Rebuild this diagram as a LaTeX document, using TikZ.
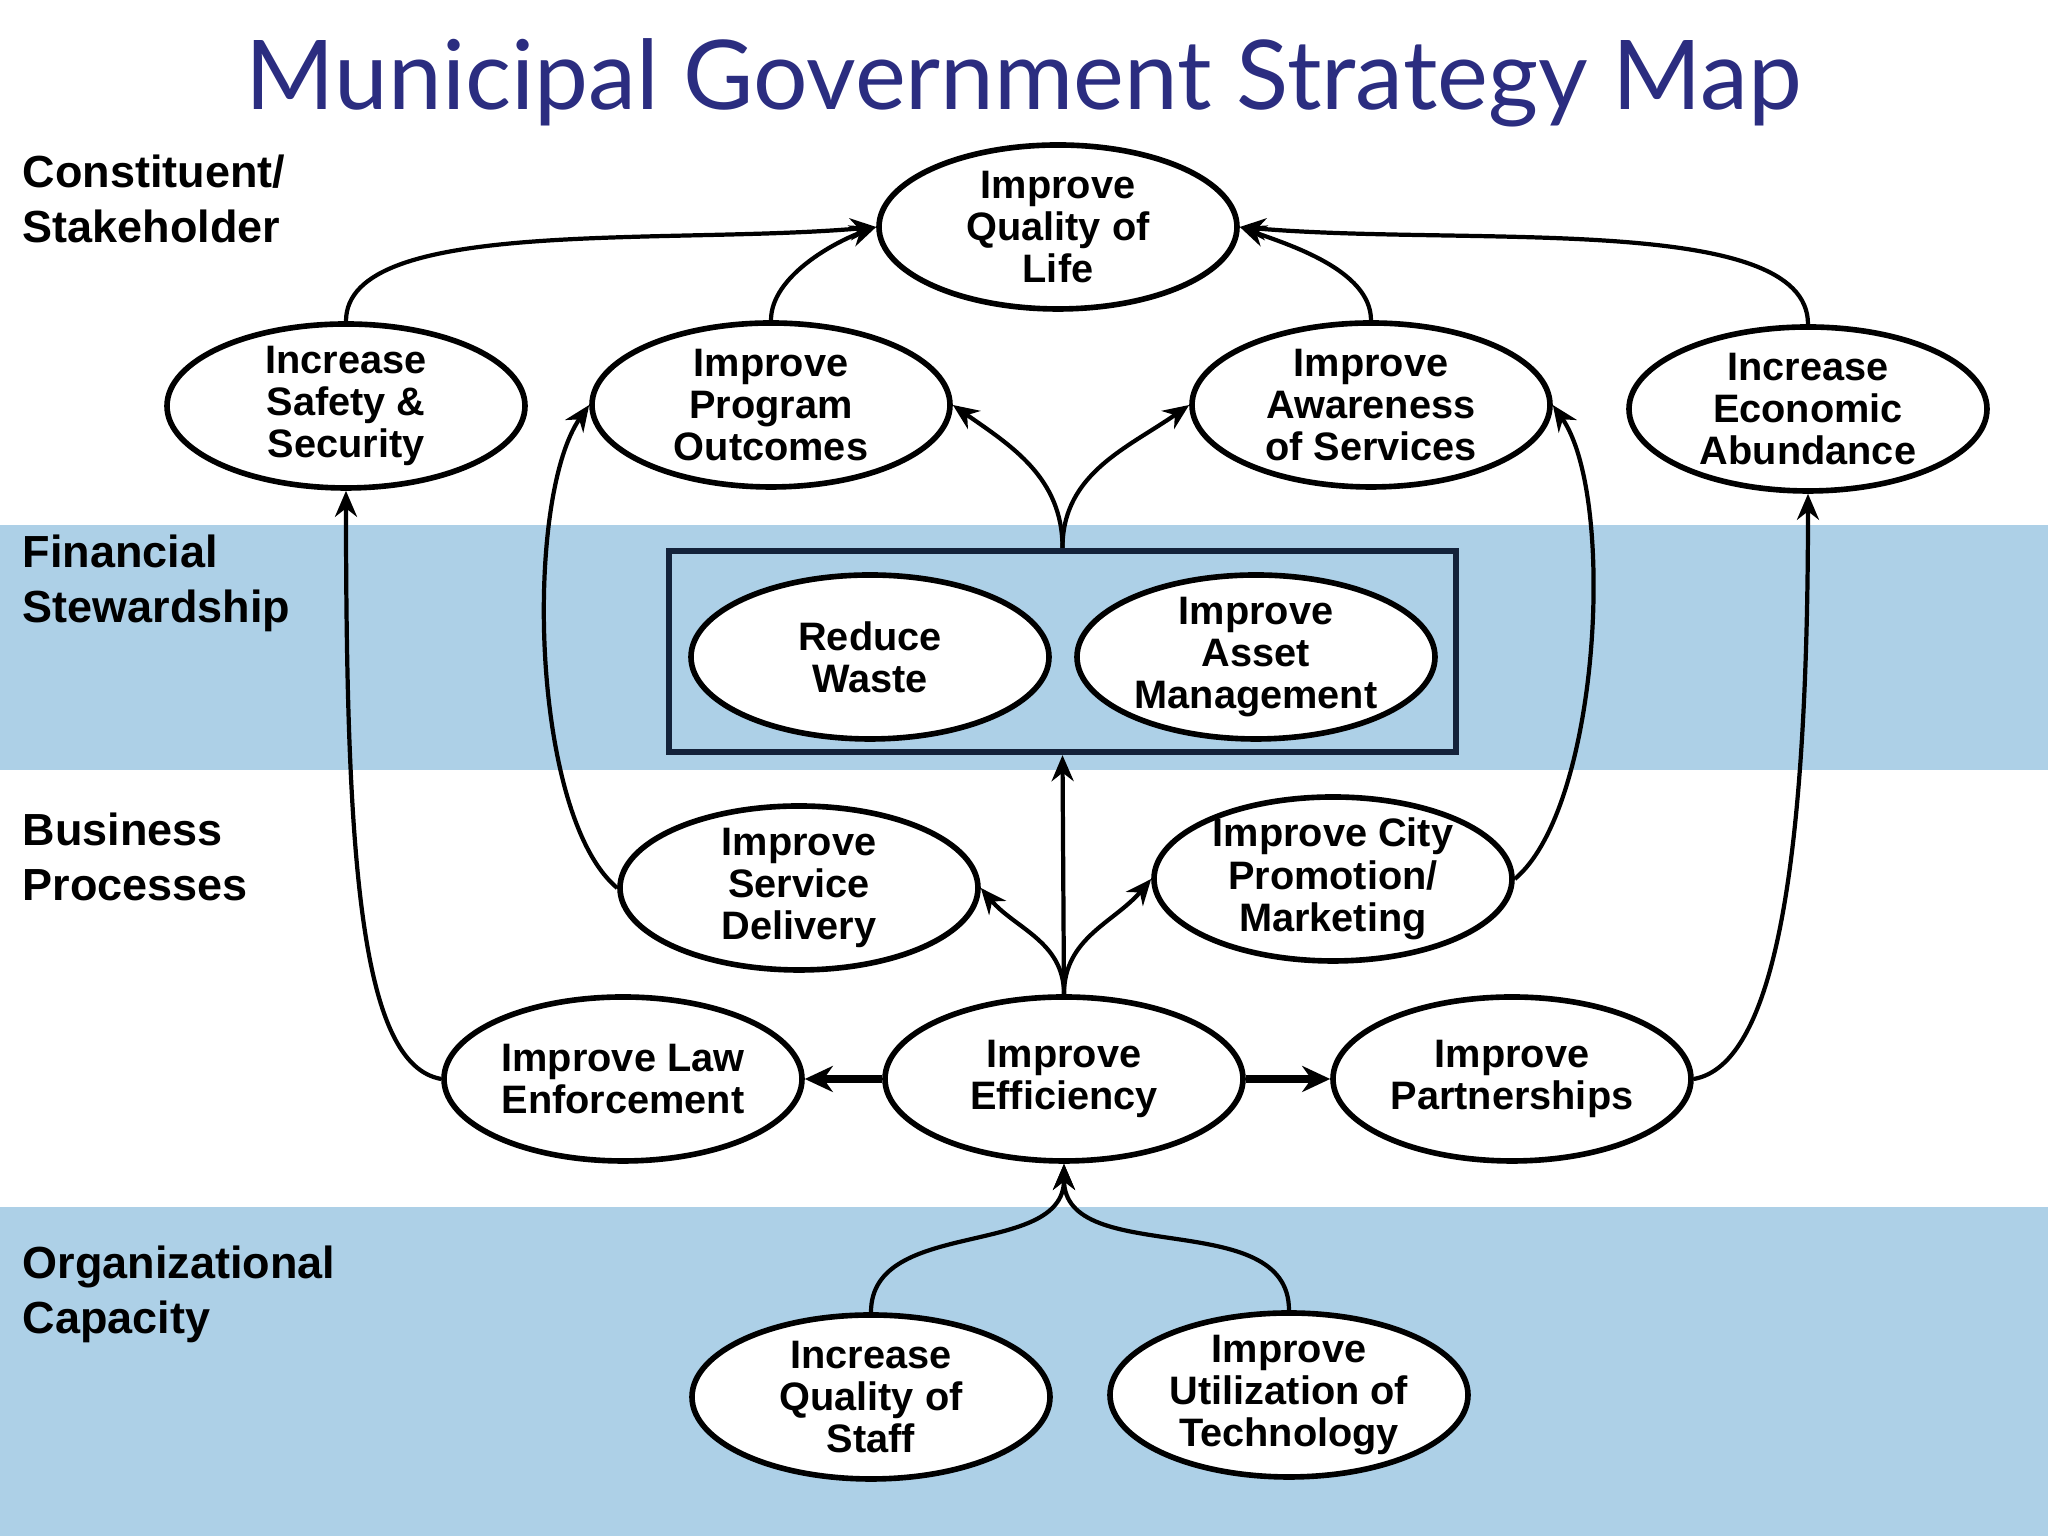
\documentclass[tikz,border=0pt]{standalone}
\usepackage{fontspec}
\setmainfont{Liberation Sans}
\newfontfamily\titlefont{Lato}
\usepackage{tikz}
\usetikzlibrary{positioning, arrows.meta, shapes.geometric, calc}
\definecolor{bandcolor}{RGB}{173,208,231}
\definecolor{titlecolor}{RGB}{43,45,128}
\definecolor{boxcolor}{RGB}{20,34,58}

\begin{document}
\begin{tikzpicture}[
    goal/.style={draw, ellipse, fill=white, line width=1.6pt, minimum width=3.58cm, minimum height=1.64cm, inner sep=-3mm, align=center, font=\fontsize{11.3}{12}\selectfont\bfseries},
    layer/.style={anchor=west, align=left, inner sep=0pt, font=\fontsize{12.8}{15.6}\selectfont\bfseries},
    arrow/.style={-{Stealth[length=2.6mm, width=2.2mm]}, line width=1.2pt},
    fat arrow/.style={-{Stealth[length=2.8mm, width=2.6mm]}, line width=2.4pt}
]
    \useasboundingbox (0,0) rectangle (20.48,15.36);
    \fill[white] (0,0) rectangle (20.48,15.36);

    % Bandes
    \fill[bandcolor] (0,7.655) rectangle (20.48,10.11);
    \fill[bandcolor] (0,0) rectangle (20.48,3.29);

    % Titre
    \node[font=\titlefont\fontsize{27.4}{30}\selectfont, text=titlecolor, anchor=base] (title) at (10.24,14.26) {Municipal Government Strategy Map};

    % Perspectives
    \node[layer] (lconst) at (0.22,13.37) {Constituent/\\Stakeholder};
    \node[layer] (lfin) at (0.22,9.53) {Financial\\Stewardship};
    \node[layer] (lproc) at (0.22,6.79) {Business\\Processes};
    \node[layer] (lorg) at (0.22,2.42) {Organizational\\Capacity};

    % Cadre financier
    \node[draw=boxcolor, line width=1.8pt, rectangle, minimum width=7.87cm, minimum height=2.01cm] (finbox) at (10.625,8.845) {};

    % Objectifs
    \node[goal] (qol) at (10.58,13.09) {Improve\\Quality of\\Life};
    \node[goal] (safety) at (3.46,11.30) {Increase\\Safety \&\\Security};
    \node[goal] (program) at (7.71,11.31) {Improve\\Program\\Outcomes};
    \node[goal] (awareness) at (13.71,11.31) {Improve\\Awareness\\of Services};
    \node[goal] (economic) at (18.08,11.27) {Increase\\Economic\\Abundance};
    \node[goal] (waste) at (8.70,8.79) {Reduce\\Waste};
    \node[goal] (asset) at (12.56,8.79) {Improve\\Asset\\Management};
    \node[goal] (service) at (7.99,6.48) {Improve\\Service\\Delivery};
    \node[goal] (promo) at (13.33,6.57) {Improve City\\Promotion/\\Marketing};
    \node[goal] (law) at (6.23,4.57) {Improve Law\\Enforcement};
    \node[goal] (eff) at (10.64,4.57) {Improve\\Efficiency};
    \node[goal] (partner) at (15.12,4.57) {Improve\\Partnerships};
    \node[goal] (staff) at (8.71,1.39) {Increase\\Quality of\\Staff};
    \node[goal] (tech) at (12.89,1.41) {Improve\\Utilization of\\Technology};

    % Vers la qualite de vie
    \draw[arrow] (safety.north) to[out=90, in=185, out looseness=0.5] (qol.west);
    \draw[arrow] (program.north) to[out=90, in=200, looseness=0.8] (qol.west);
    \draw[arrow] (awareness.north) to[out=90, in=-20, looseness=0.8] (qol.east);
    \draw[arrow] (economic.north) to[out=90, in=-5, out looseness=0.5] (qol.east);

    % Depuis le cadre financier
    \draw[arrow] (finbox.north) to[out=90, in=-35] (program.east);
    \draw[arrow] (finbox.north) to[out=90, in=215] (awareness.west);

    % Processus
    \draw[arrow] (eff.north) -- (finbox.south);
    \draw[arrow] (eff.north) to[out=90, in=-50] (service.east);
    \draw[arrow] (eff.north) to[out=90, in=230] (promo.west);
    \draw[arrow] (service.west) to[out=140, in=235, looseness=0.6] (program.west);
    \draw[arrow] (promo.east) to[out=40, in=-55, looseness=0.6] (awareness.east);
    \draw[arrow] (law.west) to[out=170, in=-90, out looseness=0.35, in looseness=1.6] (safety.south);
    \draw[arrow] (partner.east) to[out=10, in=-90, out looseness=0.35, in looseness=1.6] (economic.south);
    \draw[fat arrow] (eff.west) -- (law.east);
    \draw[fat arrow] (eff.east) -- (partner.west);

    % Capacite
    \draw[arrow] (staff.north) to[out=90, in=-90] (eff.south);
    \draw[arrow] (tech.north) to[out=90, in=-90] (eff.south);
\end{tikzpicture}
\end{document}
